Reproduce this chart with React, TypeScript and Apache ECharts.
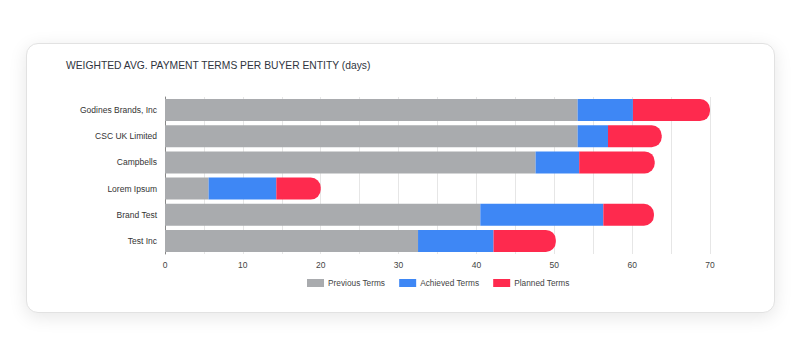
import React, { useEffect, useRef } from "react";
import * as echarts from "echarts";

const categories = ["Godines Brands, Inc", "CSC UK Limited", "Campbells", "Lorem Ipsum", "Brand Test", "Test Inc"];
const previousTerms = [53, 53, 47.6, 5.6, 40.5, 32.5];
const achievedTerms = [7.1, 3.9, 5.6, 8.7, 15.8, 9.7];
const plannedTerms = [9.9, 6.9, 9.7, 5.7, 6.5, 8.0];
const seriesNames = ["Previous Terms", "Achieved Terms", "Planned Terms"];
const colors = ["#a9abae", "#3e87f5", "#fe2a4e"];

export default function App() {
  const ref = useRef<HTMLDivElement>(null);
  useEffect(() => {
    if (!ref.current) return;
    const chart = echarts.init(ref.current, undefined, { renderer: "svg" });
    const font = "'Liberation Sans', Arial, sans-serif";
    const mk = (i: number, data: number[]) => ({
      name: seriesNames[i],
      type: "bar",
      stack: "total",
      data,
      barWidth: "84%",
      itemStyle: {
        color: colors[i],
        borderRadius: i === 2 ? [0, 10, 10, 0] : 0,
      },
    });
    chart.setOption({
      animation: false,
      textStyle: { fontFamily: font },
      title: {
        text: "WEIGHTED AVG. PAYMENT TERMS PER BUYER ENTITY (days)",
        left: 61,
        top: 55,
        textStyle: { fontSize: 10.3, fontWeight: "normal", color: "#2f3440", fontFamily: font },
      },
      legend: {
        top: 274,
        left: 302,
        itemWidth: 17,
        itemHeight: 8,
        itemGap: 14,
        icon: "rect",
        textStyle: { fontSize: 8.3, color: "#444", fontFamily: font, padding: [0, 0, 0, -1] },
        data: seriesNames,
      },
      grid: { left: 165, right: 90, top: 97, bottom: 103 },
      xAxis: {
        type: "value",
        min: 0,
        max: 70,
        interval: 5,
        axisLine: { show: false },
        axisTick: { show: false },
        axisLabel: {
          fontSize: 8.5,
          color: "#444",
          margin: 6,
          formatter: (v: number) => (v % 10 === 0 ? String(v) : ""),
        },
        splitLine: { show: true, lineStyle: { color: "#e6e6e6", width: 1 } },
      },
      yAxis: {
        type: "category",
        data: categories,
        inverse: true,
        axisLine: { show: true, lineStyle: { color: "#888", width: 1 } },
        axisTick: { show: false },
        axisLabel: { fontSize: 8.5, color: "#333", margin: 8 },
      },
      series: [mk(0, previousTerms), mk(1, achievedTerms), mk(2, plannedTerms)],
    });
    return () => chart.dispose();
  }, []);
  return (
    <div style={{ position: "absolute", left: 0, top: 0, width: 800, height: 357, background: "#fff", overflow: "hidden" }}>
      <div
        style={{
          position: "absolute",
          left: 26,
          top: 43,
          width: 749,
          height: 270,
          borderRadius: 12,
          border: "1px solid #e2e2e2",
          boxSizing: "border-box",
          background: "#fff",
          boxShadow: "0 4px 18px rgba(0,0,0,0.10)",
        }}
      />
      <div ref={ref} style={{ position: "absolute", left: 0, top: 0, width: 800, height: 357 }} />
    </div>
  );
}
